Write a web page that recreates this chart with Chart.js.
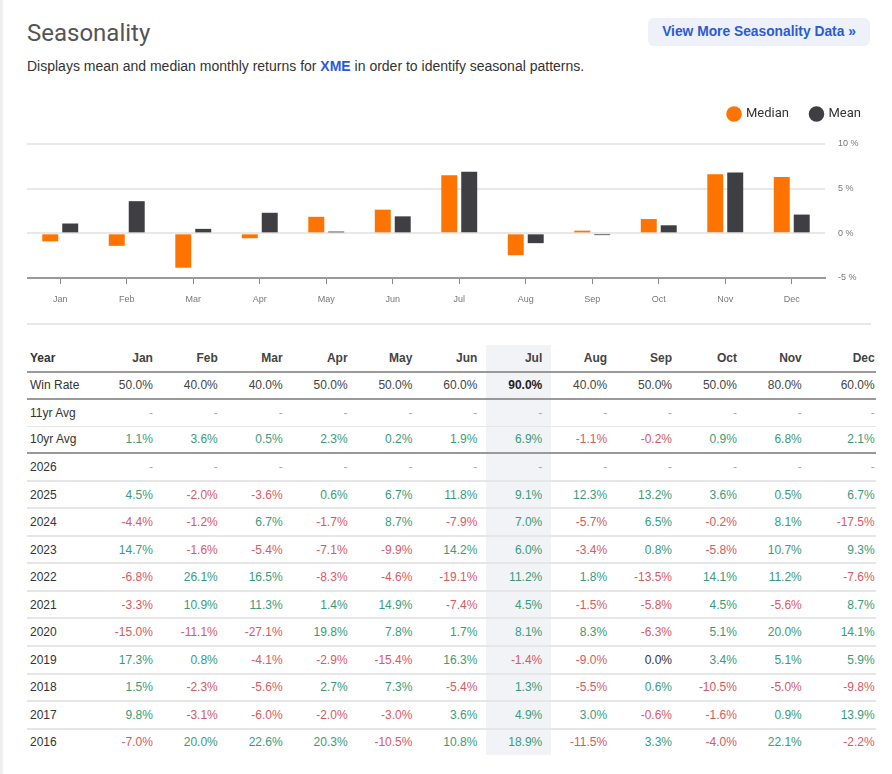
<!DOCTYPE html>
<html>
<head>
<meta charset="utf-8">
<script src="https://cdn.jsdelivr.net/npm/chart.js@4.4.1/dist/chart.umd.min.js"></script>
<style>
    body { margin: 0; background: #fff; font-family: Roboto, "Liberation Sans", Arial, sans-serif; }
    .page { position: relative; width: 892px; height: 774px; border-left: 3px solid #f0f0f0; box-sizing: border-box; }
    h1 { position: absolute; left: 24px; top: 19px; margin: 0; font-size: 24px; font-weight: 400; color: #555; }
    .sub { position: absolute; left: 24px; top: 58px; font-family: "Liberation Sans", Arial, sans-serif; font-size: 14px; color: #333; }
    .sub b { color: #2a5bd7; }
    .btn { position: absolute; left: 645px; top: 18px; width: 222px; height: 28px; line-height: 28px; text-align: center;
           background: #eef1fa; border-radius: 6px; color: #2b5cd6; font-weight: 700; font-size: 13.8px;
           font-family: "Liberation Sans", Arial, sans-serif; }
    .chartBox { position: absolute; left: 24px; top: 95px; width: 856px; height: 220px; }
    .sep { position: absolute; left: 24px; top: 323px; width: 844px; height: 2px; background: #e8e8e8; }
    table { position: absolute; left: 24px; top: 345px; width: 844px; table-layout: fixed; border-collapse: separate; border-spacing: 0;
            font-family: "Liberation Sans", Arial, sans-serif; font-size: 12px; }
    td, th { padding: 0 9px 0 0; height: 25.55px; text-align: right; border-bottom: 2px solid #e6e6e6; color: #444; font-weight: 400; }
    th { font-weight: 700; color: #444; border-bottom: 2px solid #999; }
    td:first-child, th:first-child { text-align: left; padding-left: 3px; color: #333; }
    td:last-child, th:last-child { padding-right: 1px; }
    tr.strong td { border-bottom: 2px solid #999; }
    tr.thin td { border-bottom: 1px solid #e6e6e6; }
    tr.last td { border-bottom: none; }
    .hl { background: #f1f3f7; }
    .pos { color: #3a9b7a; }
    .neg { color: #d65a64; }
    .zero { color: #333; }
    .na { color: #aaa; }
</style>
</head>
<body>
<div class="page">
    <h1>Seasonality</h1>
    <div class="btn">View More Seasonality Data »</div>
    <div class="sub">Displays mean and median monthly returns for <b>XME</b> in order to identify seasonal patterns.</div>
    <div class="chartBox"><canvas id="chartSeasonality"></canvas></div>
    <div class="sep"></div>
    <table id="seasonTable"></table>
</div>
<script>
var months = ['Jan', 'Feb', 'Mar', 'Apr', 'May', 'Jun', 'Jul', 'Aug', 'Sep', 'Oct', 'Nov', 'Dec'];
var medianValues = [-0.9, -1.4, -3.85, -0.55, 1.85, 2.65, 6.5, -2.45, 0.3, 1.6, 6.6, 6.3];
var meanValues = [1.1, 3.6, 0.5, 2.3, 0.2, 1.9, 6.9, -1.1, -0.2, 0.9, 6.8, 2.1];
var yTicks = [-5, 0, 5, 10];

var winRate = [50.0, 40.0, 40.0, 50.0, 50.0, 60.0, 90.0, 40.0, 50.0, 50.0, 80.0, 60.0];
var avg10yr = [1.1, 3.6, 0.5, 2.3, 0.2, 1.9, 6.9, -1.1, -0.2, 0.9, 6.8, 2.1];
var years = ['2025', '2024', '2023', '2022', '2021', '2020', '2019', '2018', '2017', '2016'];
var r2025 = [4.5, -2.0, -3.6, 0.6, 6.7, 11.8, 9.1, 12.3, 13.2, 3.6, 0.5, 6.7];
var r2024 = [-4.4, -1.2, 6.7, -1.7, 8.7, -7.9, 7.0, -5.7, 6.5, -0.2, 8.1, -17.5];
var r2023 = [14.7, -1.6, -5.4, -7.1, -9.9, 14.2, 6.0, -3.4, 0.8, -5.8, 10.7, 9.3];
var r2022 = [-6.8, 26.1, 16.5, -8.3, -4.6, -19.1, 11.2, 1.8, -13.5, 14.1, 11.2, -7.6];
var r2021 = [-3.3, 10.9, 11.3, 1.4, 14.9, -7.4, 4.5, -1.5, -5.8, 4.5, -5.6, 8.7];
var r2020 = [-15.0, -11.1, -27.1, 19.8, 7.8, 1.7, 8.1, 8.3, -6.3, 5.1, 20.0, 14.1];
var r2019 = [17.3, 0.8, -4.1, -2.9, -15.4, 16.3, -1.4, -9.0, 0.0, 3.4, 5.1, 5.9];
var r2018 = [1.5, -2.3, -5.6, 2.7, 7.3, -5.4, 1.3, -5.5, 0.6, -10.5, -5.0, -9.8];
var r2017 = [9.8, -3.1, -6.0, -2.0, -3.0, 3.6, 4.9, 3.0, -0.6, -1.6, 0.9, 13.9];
var r2016 = [-7.0, 20.0, 22.6, 20.3, -10.5, 10.8, 18.9, -11.5, 3.3, -4.0, 22.1, -2.2];
var yearValues = [r2025, r2024, r2023, r2022, r2021, r2020, r2019, r2018, r2017, r2016];

// tabla
const hlCol = 6;
function cellClass(i) { return i === hlCol ? ' class="hl"' : ''; }
function pctCell(v, i) {
    var cls = v > 0 ? 'pos' : (v < 0 ? 'neg' : 'zero');
    if (i === hlCol) cls += ' hl';
    return '<td class="' + cls + '">' + v.toFixed(1) + '%</td>';
}
function naRow(label, cls) {
    var h = '<tr class="' + cls + '"><td>' + label + '</td>';
    months.forEach((m, i) => { h += '<td class="na' + (i === hlCol ? ' hl' : '') + '">-</td>'; });
    return h + '</tr>';
}
var html = '<colgroup><col style="width:70px">';
months.forEach(() => { html += '<col style="width:64.9px">'; });
html += '</colgroup><tr><th>Year</th>';
months.forEach((m, i) => { html += '<th' + cellClass(i) + '>' + m + '</th>'; });
html += '</tr><tr class="strong"><td>Win Rate</td>';
winRate.forEach((v, i) => {
    html += i === hlCol ? '<td class="hl" style="font-weight:700;color:#222">' + v.toFixed(1) + '%</td>'
                        : '<td>' + v.toFixed(1) + '%</td>';
});
html += '</tr>' + naRow('11yr Avg', 'thin') + '<tr class="strong"><td>10yr Avg</td>';
avg10yr.forEach((v, i) => { html += pctCell(v, i); });
html += '</tr>' + naRow('2026', '');
years.forEach((y, k) => {
    html += '<tr' + (k === years.length - 1 ? ' class="last"' : '') + '><td>' + y + '</td>';
    yearValues[k].forEach((v, i) => { html += pctCell(v, i); });
    html += '</tr>';
});
document.getElementById('seasonTable').innerHTML = html;

// grafico
const legendSpace = {
    id: 'legendSpace',
    beforeInit(chart) {
        const fit = chart.legend.fit;
        chart.legend.fit = function () {
            fit.bind(chart.legend)();
            this.height += 13.5;
        };
    }
};

const ctx = document.getElementById('chartSeasonality');
var chartSeasonality = new Chart(ctx, {
    type: 'bar',
    plugins: [legendSpace],
    data: {
        labels: months,
        datasets: [
            { label: 'Median', data: medianValues, backgroundColor: '#ff7300', borderWidth: 0 },
            { label: 'Mean', data: meanValues, backgroundColor: '#3e3e43', borderWidth: 0 },
        ],
    },
    options: {
        responsive: true,
        maintainAspectRatio: false,
        animation: false,
        events: [],
        datasets: { bar: { categoryPercentage: 0.6, barPercentage: 0.8 } },
        layout: { padding: { top: -9.5 } },
        scales: {
            x: {
                grid: { offset: false, drawOnChartArea: false, drawTicks: true, tickLength: 6, color: '#888', lineWidth: 1 },
                border: { display: true, color: '#9a9a9a', width: 2 },
                ticks: { color: '#777', font: { size: 9 }, padding: 10 },
                afterFit: (scale) => { scale.height = 37; },
            },
            y: {
                position: 'right',
                min: -5,
                max: 10,
                afterBuildTicks: (scale) => { scale.ticks = yTicks.map(v => ({ value: v })); },
                grid: { color: '#e8e8e8', lineWidth: 2, drawTicks: false },
                border: { display: false },
                ticks: { color: '#777', font: { size: 9 }, padding: 13, callback: (v) => v + ' %' },
                afterFit: (scale) => { scale.width = 58; },
            },
        },
        plugins: {
            legend: {
                position: 'top',
                align: 'end',
                labels: {
                    usePointStyle: true,
                    pointStyle: 'circle',
                    boxWidth: 11,
                    boxHeight: 11,
                    padding: 22,
                    color: '#333',
                    font: { size: 13, family: 'Roboto' },
                },
            },
            tooltip: { enabled: false },
        },
    },
});
</script>
</body>
</html>
